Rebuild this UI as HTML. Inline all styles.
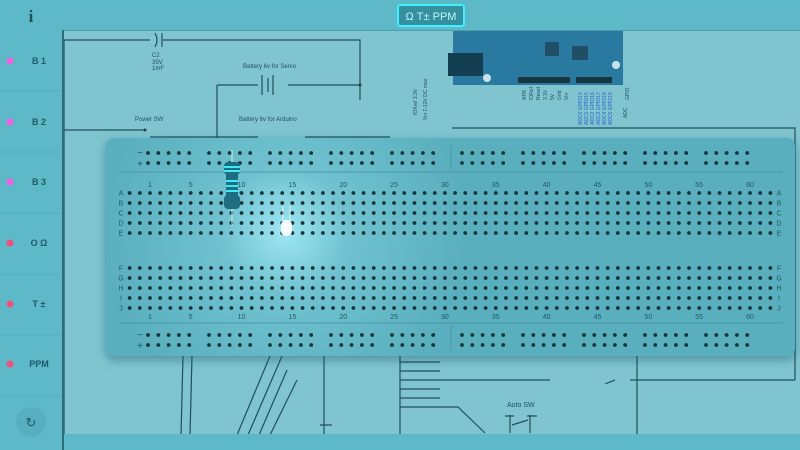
<!DOCTYPE html>
<html><head><meta charset="utf-8"><style>
html,body{margin:0;padding:0;width:800px;height:450px;overflow:hidden;background:#7fc3cf;font-family:"Liberation Sans",sans-serif}
svg{display:block}
</style></head><body>
<svg id="s" width="800" height="450" xmlns="http://www.w3.org/2000/svg" font-family="Liberation Sans, sans-serif">
<defs>
<radialGradient id="glow" cx="285" cy="232" r="180" gradientUnits="userSpaceOnUse">
<stop offset="0" stop-color="#9ee6f2"/><stop offset="0.35" stop-color="#70c2d0"/><stop offset="1" stop-color="#5aafbe"/>
</radialGradient>
<filter id="sh" x="-10%" y="-10%" width="120%" height="130%"><feDropShadow dx="0" dy="4" stdDeviation="5" flood-color="#1d5560" flood-opacity="0.45"/></filter>
</defs>
<rect width="800" height="450" fill="#80c4d0"/>
<g stroke="#1f4f5a" stroke-width="1.2" fill="none">
<path d="M64 40 H150 M163 40 H360 V85 M217 85 H258 M288 85 H360 V100 M217 85 V138 M64 40 V435 M64 130 H145 M150 137 H258 M305 137 H390"/>
<path d="M155 33 q4 7 0 14 M162 33 V47"/>
<path d="M262 75 V95 M268 78 V92 M273 75 V95"/>
<path d="M452 128 H795 V380 M630 380 H795 M605 384 L615 380"/>
<path d="M183 356 L181 435 M192 356 L190 435 M270 356 L237 435 M282 356 L248 435 M287 370 L259 435 M297 380 L270 435 M324 356 V435 M400 356 V435 M637 356 V435 M320 425 H332"/>
<path d="M400 362 H440 M400 371 H440 M400 380 H550 M400 389 H440 M400 398 H440 M400 407 H458 L485 433 M510 415 V433 M530 415 V433 M512 425 L528 420 M505 416 H514 M527 416 H537"/>
</g>
<g font-size="6" fill="#1f4f5a">
<text x="152" y="57">C2</text><text x="152" y="64">35V</text><text x="152" y="70">1mF</text>
<text x="243" y="68">Battery 6v for Servo</text>
<text x="239" y="121">Battery 6v for Arduino</text>
<text x="135" y="121">Power SW</text>
<text x="507" y="407" font-size="7">Auto SW</text>
</g>
<g fill="#27404a"><circle cx="145" cy="130" r="1.5"/><circle cx="360" cy="85" r="1.5"/></g>
<rect x="453" y="30" width="170" height="55" fill="#2a79a0"/>
<rect x="448" y="53" width="35" height="23" fill="#143e52"/>
<rect x="518" y="77" width="52" height="6" fill="#173640"/><rect x="576" y="77" width="36" height="6" fill="#173640"/>
<rect x="545" y="42" width="14" height="14" fill="#1e4f67"/><rect x="572" y="46" width="16" height="14" fill="#1e4f67"/>
<circle cx="487" cy="78" r="4" fill="#c8e4ea"/><circle cx="616" cy="65" r="4" fill="#c8e4ea"/>
<g font-size="5" fill="#1f4f5a">
<text transform="translate(417,115) rotate(-90)">IOXref 3.3V</text>
<text transform="translate(427,120) rotate(-90)">Vin 7-12V DC max</text>
<text transform="translate(526,100) rotate(-90)">ATN</text>
<text transform="translate(533,100) rotate(-90)">IORef</text>
<text transform="translate(540,100) rotate(-90)">Reset</text>
<text transform="translate(547,100) rotate(-90)">3.3V</text>
<text transform="translate(554,100) rotate(-90)">5V</text>
<text transform="translate(561,100) rotate(-90)">Gnd</text>
<text transform="translate(568,100) rotate(-90)">Vin</text>
<text transform="translate(629,100) rotate(-90)">GPIO</text>
<text transform="translate(627,118) rotate(-90)">ADC</text>
</g>
<g font-size="5" fill="#2e62c8">
<text transform="translate(582,125) rotate(-90)">ADC0 GPIO14</text>
<text transform="translate(588,125) rotate(-90)">ADC1 GPIO15</text>
<text transform="translate(594,125) rotate(-90)">ADC2 GPIO16</text>
<text transform="translate(600,125) rotate(-90)">ADC3 GPIO17</text>
<text transform="translate(606,125) rotate(-90)">ADC4 GPIO18</text>
<text transform="translate(612,125) rotate(-90)">ADC5 GPIO19</text>
</g>
<rect x="0" y="0" width="800" height="30" fill="#5db8c7"/>
<rect x="0" y="30" width="800" height="1" fill="#4a9fae"/>
<text x="31" y="22" font-size="17" font-weight="bold" fill="#1f4f5a" font-family="Liberation Serif, serif" text-anchor="middle">i</text>
<rect x="398" y="5" width="66" height="21" rx="2" fill="#36909f" stroke="#3ff0ff" stroke-width="2"/>
<text x="431" y="20" font-size="11" fill="#b8fbff" text-anchor="middle">Ω T± PPM</text>
<rect x="62" y="434" width="738" height="16" fill="#5db8c7"/>
<rect x="0" y="30" width="62" height="420" fill="#5db8c7"/>
<rect x="62" y="30" width="2" height="420" fill="#2e6d78"/>
<g stroke="#55aebd" stroke-width="1"><path d="M0 91H62M0 152H62M0 213H62M0 274H62M0 335H62M0 396H62"/></g>
<g font-size="9" font-weight="bold" fill="#1f5866" text-anchor="middle">
<text x="39" y="64">B 1</text><text x="39" y="125">B 2</text><text x="39" y="185">B 3</text>
<text x="39" y="246">O Ω</text><text x="39" y="307">T ±</text><text x="39" y="367">PPM</text>
</g>
<g><circle cx="10" cy="61" r="3.5" fill="#f060e0"/><circle cx="10" cy="122" r="3.5" fill="#f060e0"/><circle cx="10" cy="182" r="3.5" fill="#f060e0"/>
<circle cx="10" cy="243" r="3.5" fill="#f0507a"/><circle cx="10" cy="304" r="3.5" fill="#f0507a"/><circle cx="10" cy="364" r="3.5" fill="#f0507a"/></g>
<circle cx="31" cy="422" r="15" fill="#57aebe"/>
<text x="31" y="427" font-size="13" fill="#1f5866" text-anchor="middle">↻</text>
<rect x="106" y="138" width="689" height="218" rx="8" fill="url(#glow)" filter="url(#sh)"/>
<path d="M120 172H783M120 323H783M451 145V170M451 325V350" stroke="#4a9aa8" stroke-width="1"/>
<g id="holes" fill="#17353b"></g>
<g id="lbl" font-size="7" fill="#1f5866" text-anchor="middle"></g>
<line x1="232" y1="150" x2="232" y2="226" stroke="#c9eef2" stroke-width="1"/>
<rect x="224" y="162" width="16" height="13" rx="4" fill="#1f6d80"/>
<rect x="226" y="174" width="12" height="22" fill="#1f6d80"/>
<rect x="224" y="195" width="16" height="14" rx="4" fill="#1f6d80"/>
<g fill="#3fe8f5"><rect x="224" y="166" width="16" height="2"/><rect x="224" y="170" width="16" height="2"/><rect x="226" y="180" width="12" height="2"/><rect x="226" y="185" width="12" height="2"/><rect x="226" y="190" width="12" height="2"/></g>
<path d="M283 206V222M290 206V222" stroke="#e0f4f6" stroke-width="1"/>
<rect x="281" y="220" width="11" height="16" rx="5" fill="#f4fbfb"/>
</svg>
<script>
var ns="http://www.w3.org/2000/svg",H=document.getElementById('holes'),L=document.getElementById('lbl');
function c(x,y){var e=document.createElementNS(ns,'circle');e.setAttribute('cx',x);e.setAttribute('cy',y);e.setAttribute('r',1.9);H.appendChild(e);}
function t(x,y,s,a){var e=document.createElementNS(ns,'text');e.setAttribute('x',x);e.setAttribute('y',y);if(a)e.setAttribute('font-size',a);e.textContent=s;L.appendChild(e);}
var p=10.17;
[193,203,213,223,233,268,278,288,298,308].forEach(function(y,i){for(var k=-2;k<=61;k++)c(150+k*p,y);var r="ABCDEFGHIJ"[i];t(121,y+2.5,r);t(779,y+2.5,r);});
[1,5,10,15,20,25,30,35,40,45,50,55,60].forEach(function(n){var x=150+(n-1)*p;t(x,187,n);t(x,319,n);});
[153,163,335,345].forEach(function(y){for(var g=0;g<10;g++){var x0=g<5?148+g*61:462+(g-5)*61;for(var h=0;h<5;h++)c(x0+h*10.3,y);}});
t(140,156,'−',10);t(140,167,'+',10);t(140,338,'−',10);t(140,349,'+',10);
</script>
</body></html>
